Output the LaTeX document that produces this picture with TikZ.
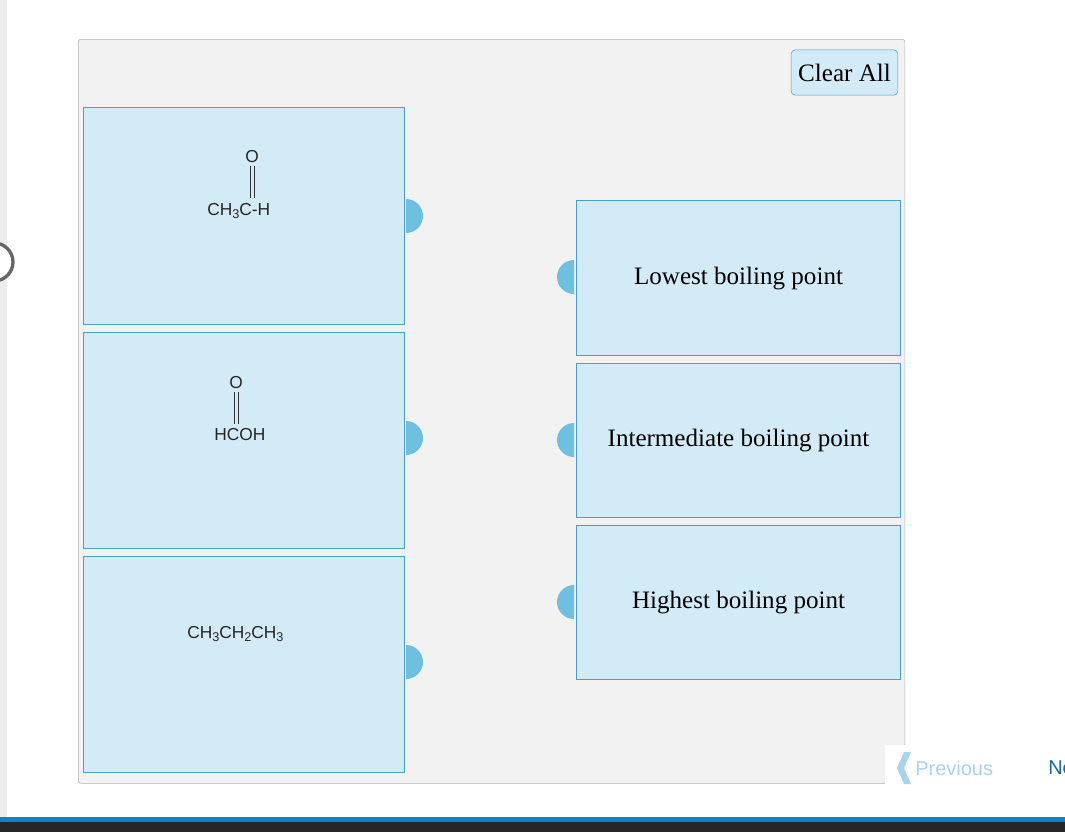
\documentclass[tikz,border=0pt]{standalone}
\usepackage{fontspec}
\setmainfont{Liberation Serif}
\newfontfamily\chem{Liberation Sans}
\newcommand{\sbs}[1]{\raisebox{-0.35ex}{\fontsize{9.5}{10}\selectfont #1}}
\begin{document}
\begin{tikzpicture}[x=0.75pt,y=-0.75pt,
  card/.style={draw=boxedge,fill=boxfill,line width=0.8pt},
  lbl/.style={font=\fontsize{18.8}{22}\selectfont,text=black},
  chm/.style={font=\chem\fontsize{13}{15}\selectfont,text=black!85,inner sep=0pt}]
\definecolor{boxfill}{HTML}{D3EAF7}
\definecolor{boxedge}{HTML}{4A9CC9}
\definecolor{tabblue}{HTML}{6FC0E0}
\definecolor{panel}{HTML}{F2F2F2}
\definecolor{prev}{HTML}{A8D4EA}
\definecolor{nextc}{HTML}{1A6AA0}
\definecolor{barblue}{HTML}{0288C8}
\useasboundingbox (0,0) rectangle (1065,832);
\fill[white] (0,0) rectangle (1065,832);
\fill[black!7] (0,0) rectangle (7,818);
\fill[barblue] (0,817) rectangle (1065,822);
\fill[black!85] (0,822) rectangle (1065,832);
\begin{scope}
\clip (0,0) rectangle (1065,832);
\draw[black!60,line width=2.5pt,fill=white] (-6,262) circle (19);
\end{scope}
\node[draw=black!30,fill=panel,rounded corners=2pt,minimum width=620pt,minimum height=558pt,anchor=north west,inner sep=0pt] (panel) at (78,39) {};
\node[draw=boxedge,fill=boxfill,rounded corners=3pt,minimum width=80pt,minimum height=34pt,inner sep=0pt,lbl] (clear) at (844.5,72.5) {Clear All};
% left cards
\node[card,minimum width=240.75pt,minimum height=162.75pt,anchor=north west,inner sep=0pt] (l1) at (83,107) {};
\node[card,minimum width=240.75pt,minimum height=162pt,anchor=north west,inner sep=0pt] (l2) at (83,332) {};
\node[card,minimum width=240.75pt,minimum height=162pt,anchor=north west,inner sep=0pt] (l3) at (83,556) {};
% right cards
\node[card,minimum width=243pt,minimum height=116.25pt,anchor=north west,inner sep=0pt,lbl] (r1) at (576,200) {Lowest boiling point};
\node[card,minimum width=243pt,minimum height=115.5pt,anchor=north west,inner sep=0pt,lbl] (r2) at (576,363) {Intermediate boiling point};
\node[card,minimum width=243pt,minimum height=115.5pt,anchor=north west,inner sep=0pt,lbl] (r3) at (576,525) {Highest boiling point};
% tabs
\foreach \yy in {216,438,662}{\fill[tabblue] (406,\yy-17) arc (-90:90:17) -- cycle;}
\foreach \yy in {277,440,602}{\fill[tabblue] (574,\yy-17) arc (-90:-270:17) -- cycle;}
% chemistry 1
\node[chm,anchor=base west] (c1) at (207,215) {CH\sbs{3}C-H};
\node[chm] (o1) at (252,157) {O};
\draw[black!80,line width=0.6pt] (250,166)--(250,198) (254,166)--(254,198);
% chemistry 2
\node[chm,anchor=base west] (c2) at (214,440) {HCOH};
\node[chm] (o2) at (236,383) {O};
\draw[black!80,line width=0.6pt] (234,392)--(234,424) (238,392)--(238,424);
% chemistry 3
\node[chm,anchor=base west] (c3) at (187,638) {CH\sbs{3}CH\sbs{2}CH\sbs{3}};
% nav
\fill[white] (885,745) rectangle (1065,800);
\fill[prev] (904,752)--(911,752)--(904,768)--(911,784)--(904,784)--(897,768)--cycle;
\node[font=\chem\fontsize{15}{18}\selectfont,text=prev,anchor=west,inner sep=0pt] (pv) at (915,768) {Previous};
\node[font=\chem\fontsize{15}{18}\selectfont,text=nextc,anchor=west,inner sep=0pt] (nx) at (1048,768) {Ne};
\end{tikzpicture}
\end{document}
